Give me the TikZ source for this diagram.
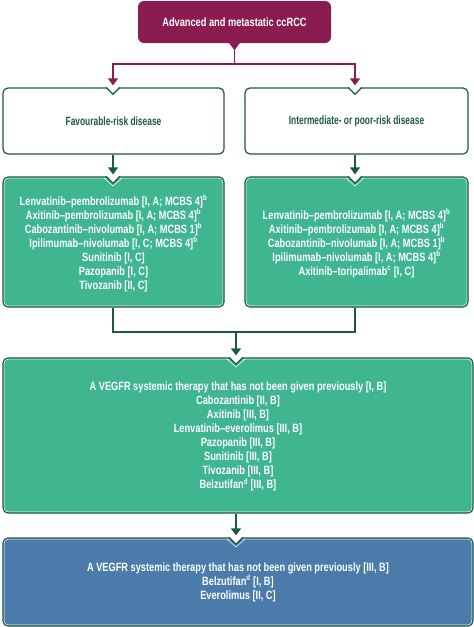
\documentclass[tikz,border=0pt]{standalone}
\usepackage{fontspec}
\setmainfont{Liberation Sans}[FakeStretch=0.77]
\usetikzlibrary{arrows.meta,calc}
\definecolor{plum}{HTML}{8A1C50}
\definecolor{dkgreen}{HTML}{1F5A3C}
\definecolor{tealfill}{HTML}{3FB68F}
\definecolor{steel}{HTML}{4A7BAA}

% V-shaped notch on the top edge of a box
\newcommand{\notch}[3]{%
  \coordinate (n) at (#1.north -| #2,0);
  \fill[white] ($(n)+(-6.5,-1)$) -- ($(n)+(6.5,-1)$) -- ($(n)+(0,7.5)$) -- cycle;
  \ifx#3w\else
    \draw[white, line width=0.5pt] ($(n)+(-9,1.7)$) -- ($(n)+(0,9.6)$) -- ($(n)+(9,1.7)$);
    \draw[white, line width=0.5pt, rounded corners=4pt] ([shift={(1.7,-1.7)}]#1.south west) rectangle ([shift={(-1.7,1.7)}]#1.north east);
  \fi
  \draw[dkgreen, line width=1.2pt] ($(n)+(-6.8,0)$) -- ($(n)+(0,6.8)$) -- ($(n)+(6.8,0)$);
}

\begin{document}
\begin{tikzpicture}[x=1pt, y=-1pt,
    txt/.style={font=\bfseries\fontsize{12}{14}\selectfont, align=center},
    box/.style={txt, rounded corners=5pt, draw=dkgreen, line width=1.2pt},
    wbox/.style={box, fill=white, text=dkgreen, font=\bfseries\addfontfeature{FakeStretch=0.7}\fontsize{12}{14}\selectfont},
    gbox/.style={box, fill=tealfill, text=white, text depth=-3pt},
    bbox/.style={box, fill=steel, text=white},
    arr/.style={dkgreen, line width=1.3pt, -{Triangle[width=10pt,length=7pt]}}]
  \useasboundingbox (0,0) rectangle (474,627);

  \node[txt, fill=plum, text=white, rounded corners=6pt, minimum width=193pt, minimum height=42pt] (top) at (234.5,22) {Advanced and metastatic ccRCC};
  \fill[plum] ($(top.south)+(-6,-1)$) -- ($(top.south)+(6,-1)$) -- ($(top.south)+(0,7)$) -- cycle;

  \node[wbox, minimum width=221pt, minimum height=66pt] (fav) at (113.5,121) {Favourable-risk disease};
  \node[wbox, minimum width=223pt, minimum height=66pt] (int) at (356.5,121) {Intermediate- or poor-risk disease};

  \node[gbox, minimum width=221pt, minimum height=130pt] (favtx) at (113.5,242) {Lenvatinib--pembrolizumab [I, A; MCBS 4]\textsuperscript{b}\\
    Axitinib--pembrolizumab [I, A; MCBS 4]\textsuperscript{b}\\
    Cabozantinib--nivolumab [I, A; MCBS 1]\textsuperscript{b}\\
    Ipilimumab--nivolumab [I, C; MCBS 4]\textsuperscript{b}\\
    Sunitinib [I, C]\\ Pazopanib [I, C]\\ Tivozanib [II, C]};
  \node[gbox, minimum width=223pt, minimum height=130pt] (inttx) at (356.5,242) {Lenvatinib--pembrolizumab [I, A; MCBS 4]\textsuperscript{b}\\
    Axitinib--pembrolizumab [I, A; MCBS 4]\textsuperscript{b}\\
    Cabozantinib--nivolumab [I, A; MCBS 1]\textsuperscript{b}\\
    Ipilimumab--nivolumab [I, A; MCBS 4]\textsuperscript{b}\\
    Axitinib--toripalimab\textsuperscript{c} [I, C]};

  \node[gbox, minimum width=470pt, minimum height=155pt] (second) at (238,435.5) {A VEGFR systemic therapy that has not been given previously [I, B]\\
    Cabozantinib [II, B]\\ Axitinib [III, B]\\ Lenvatinib--everolimus [III, B]\\
    Pazopanib [III, B]\\ Sunitinib [III, B]\\ Tivozanib [III, B]\\ Belzutifan\textsuperscript{d} [III, B]};
  \node[bbox, minimum width=470pt, minimum height=88pt] (third) at (238,582) {A VEGFR systemic therapy that has not been given previously [III, B]\\
    Belzutifan\textsuperscript{d} [I, B]\\ Everolimus [II, C]};

  \notch{fav}{113}{w}
  \notch{int}{355}{w}
  \notch{favtx}{113}{g}
  \notch{inttx}{355}{g}
  \notch{second}{236}{g}
  \notch{third}{236}{g}

  \coordinate (split) at (234.5,64);
  \coordinate (merge) at (236,332);
  \draw[plum, line width=1.3pt] ($(top.south)+(0,6)$) -- (split);
  \draw[arr, plum] (split) -| ([yshift=2pt]fav.north -| 113,0);
  \draw[arr, plum] (split) -| ([yshift=2pt]int.north -| 355,0);
  \draw[arr] (fav.south -| 113,0) -- ([yshift=2pt]favtx.north -| 113,0);
  \draw[arr] (int.south -| 355,0) -- ([yshift=2pt]inttx.north -| 355,0);
  \draw[dkgreen, line width=1.3pt] (favtx.south -| 113,0) |- (merge) -| (inttx.south -| 355,0);
  \draw[arr] (merge) -- ([yshift=2pt]second.north -| merge);
  \draw[arr] (second.south -| merge) -- ([yshift=2pt]third.north -| merge);
\end{tikzpicture}
\end{document}
